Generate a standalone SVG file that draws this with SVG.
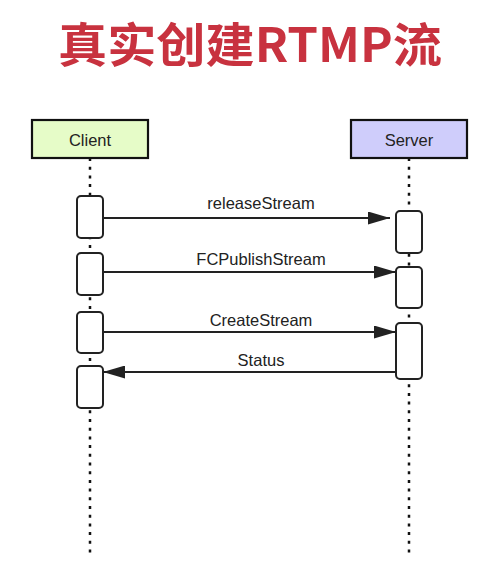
<svg xmlns="http://www.w3.org/2000/svg" width="495" height="573" viewBox="0 0 495 573">
<style>
.life{stroke:#111;stroke-width:2.5;stroke-dasharray:3 5.7;fill:none}
.act{fill:#fff;stroke:#222;stroke-width:2}
.msg{stroke:#222;stroke-width:2;fill:none}
.lbl{font-family:"Liberation Sans",Arial,sans-serif;font-size:16.5px;fill:#222;text-anchor:middle}
.head{stroke:#111;stroke-width:2.2}
</style>
<defs>
<marker id="arr" markerWidth="22" markerHeight="13" viewBox="0 0 22 13" refX="22" refY="6.5" markerUnits="userSpaceOnUse" orient="auto">
<path d="M0,0 L22,6.5 L0,13 Z" fill="#222"/>
</marker>
</defs>
<rect width="495" height="573" fill="#fff"/>
<text x="250" y="62" font-family="'Noto Sans CJK SC','Noto Sans',sans-serif" font-weight="bold" font-size="47" fill="#c8323f" text-anchor="middle" textLength="384" lengthAdjust="spacingAndGlyphs">真实创建RTMP流</text>
<g id="lifelines">
<line class="life" x1="90" y1="158" x2="90" y2="556"/>
<line class="life" x1="409" y1="158" x2="409" y2="556"/>
</g>
<g id="client">
<rect class="head" x="32" y="120" width="116" height="38" fill="#e6fcc8"/>
<text class="lbl" x="90" y="146">Client</text>
</g>
<g id="server">
<rect class="head" x="351" y="120" width="116" height="38" fill="#cfcdfb"/>
<text class="lbl" x="409" y="146">Server</text>
</g>
<g id="activations">
<rect class="act" x="77" y="196" width="26" height="42" rx="4"/>
<rect class="act" x="77" y="253" width="26" height="42" rx="4"/>
<rect class="act" x="77" y="312" width="26" height="41" rx="4"/>
<rect class="act" x="77" y="366" width="26" height="42" rx="4"/>
<rect class="act" x="396" y="211" width="26" height="42" rx="4"/>
<rect class="act" x="396" y="267" width="26" height="41" rx="4"/>
<rect class="act" x="396" y="323" width="26" height="56" rx="4"/>
</g>
<g id="connectors">
<line class="msg" x1="103" y1="218" x2="390" y2="218" marker-end="url(#arr)"/>
<line class="msg" x1="103" y1="272" x2="396" y2="272" marker-end="url(#arr)"/>
<line class="msg" x1="103" y1="332" x2="396" y2="332" marker-end="url(#arr)"/>
<line class="msg" x1="396" y1="372" x2="103" y2="372" marker-end="url(#arr)"/>
</g>
<g id="labels">
<text class="lbl" x="261" y="209">releaseStream</text>
<text class="lbl" x="261" y="265">FCPublishStream</text>
<text class="lbl" x="261" y="326">CreateStream</text>
<text class="lbl" x="261" y="366">Status</text>
</g>
</svg>
